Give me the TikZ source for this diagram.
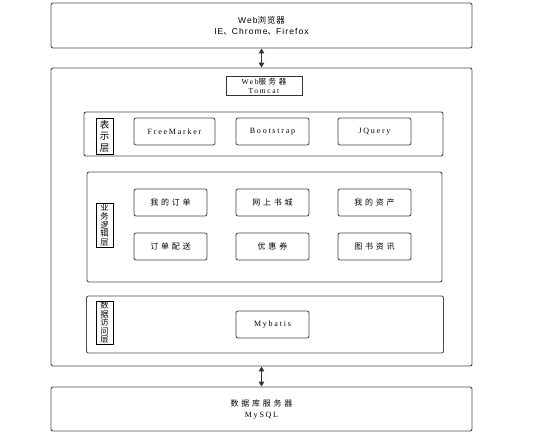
\documentclass[tikz,border=0pt]{standalone}
\usepackage{fontspec}
\setmainfont{Liberation Serif}[LetterSpace=22]
\newfontfamily\cjk{Noto Sans CJK SC}[LetterSpace=35]
\newfontfamily\cjktop{Noto Sans CJK SC}[LetterSpace=10]
\newfontfamily\cjklbl{Noto Sans CJK SC}
\newfontfamily\arial{Liberation Sans}[LetterSpace=13]
\usetikzlibrary{arrows.meta}
\newcommand{\zh}[1]{{\cjk #1}}
\begin{document}
\begin{tikzpicture}[x=1pt,y=-1pt,
	outer/.style={draw=black!70,line width=0.9pt,rounded corners=2pt,inner sep=0pt,align=center,font=\fontsize{7.5}{11}\selectfont},
	part/.style={draw=black!75,line width=0.8pt,rounded corners=2pt,minimum width=73pt,minimum height=27pt,inner sep=0pt,font=\fontsize{8}{8}\selectfont},
	partzh/.style={part,font=\fontsize{8}{8}\selectfont\cjk},
	layerlbl/.style={draw=black,line width=0.6pt,minimum width=17pt,inner sep=0pt,align=center},
	link/.style={{Triangle[length=5pt,width=5.5pt]}-{Triangle[length=5pt,width=5.5pt]},line width=1.3pt,black!80}]
	\useasboundingbox (0,0) rectangle (539,444);
	\node [outer,minimum width=421pt,minimum height=45pt,font=\fontsize{8.5}{11}\selectfont\arial] (browser) at (261.5,25.5) {Web{\cjktop 浏览器}\\IE{\cjktop 、}Chrome{\cjktop 、}Firefox};
	\node [outer,minimum width=421pt,minimum height=298pt] (web) at (261.5,217) {};
	\node [draw=black!80,line width=0.6pt,minimum width=76pt,minimum height=19pt,inner sep=0pt,align=center,font=\fontsize{7.5}{9}\selectfont] (tomcat) at (264,85.5) {Web\zh{服务器}\\Tomcat};
	\node [outer,minimum width=359pt,minimum height=44pt] (pres) at (263.5,134) {};
	\node [layerlbl,minimum height=36pt,font=\fontsize{9.5}{11.5}\selectfont\cjklbl] (preslbl) at (104.5,136) {表\\示\\层};
	\node [part,minimum width=81pt] (fm) at (174.5,131.5) {FreeMarker};
	\node [part] (bs) at (272.5,131.5) {Bootstrap};
	\node [part] (jq) at (374.5,131.5) {JQuery};
	\node [outer,minimum width=355pt,minimum height=110pt] (biz) at (264.5,227) {};
	\node [layerlbl,minimum height=44pt,font=\fontsize{8.3}{8.6}\selectfont\cjklbl] (bizlbl) at (104.5,225) {业\\务\\逻\\辑\\层};
	\node [partzh] (order) at (170.5,202.5) {我的订单};
	\node [partzh] (mall) at (272.5,202.5) {网上书城};
	\node [partzh] (asset) at (374.5,202.5) {我的资产};
	\node [partzh] (ship) at (170.5,246.5) {订单配送};
	\node [partzh] (coupon) at (272.5,246.5) {优惠券};
	\node [partzh] (news) at (374.5,246.5) {图书资讯};
	\node [outer,minimum width=357pt,minimum height=57pt] (data) at (265,324.5) {};
	\node [layerlbl,minimum height=43pt,font=\fontsize{8.3}{8.4}\selectfont\cjklbl] (datalbl) at (104.5,322.5) {数\\据\\访\\问\\层};
	\node [part] (mybatis) at (272.5,324.5) {Mybatis};
	\node [outer,minimum width=421pt,minimum height=44pt,font=\fontsize{8}{11}\selectfont] (db) at (261.5,409) {\zh{数据库服务器}\\MySQL};
	\draw [link] (browser.south) to (web.north);
	\draw [link] (web.south) to (db.north);
\end{tikzpicture}
\end{document}
